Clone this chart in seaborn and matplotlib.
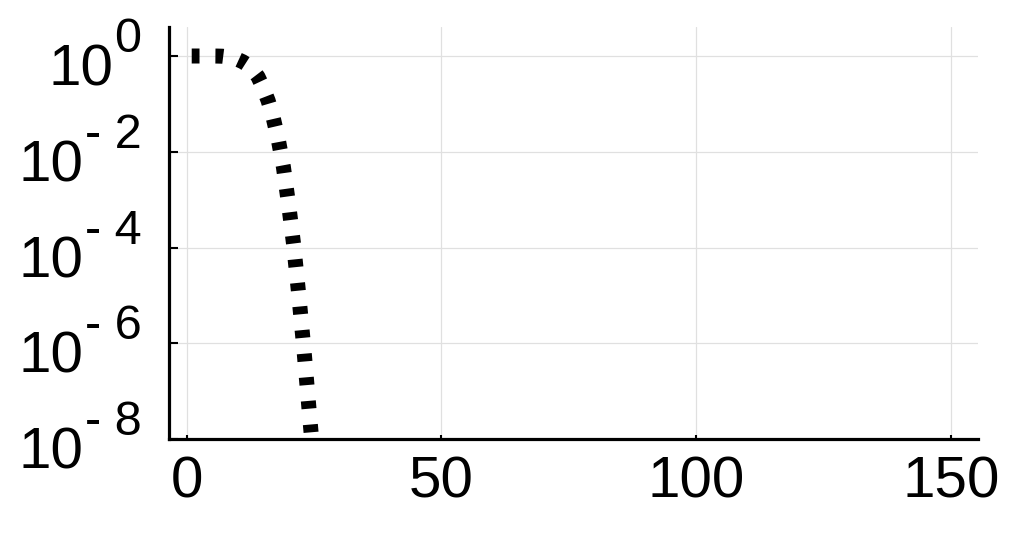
import numpy as np
import pandas as pd
import matplotlib
matplotlib.use("Agg")
import matplotlib.pyplot as plt
from matplotlib.ticker import NullLocator
import seaborn as sns

# ---- data ----
x_vals = list(range(1, 27))
y_vals = [1.0, 1.0, 1.0, 1.0, 0.999, 0.997, 0.99, 0.96, 0.91, 0.85,
          0.76, 0.65, 0.51, 0.37, 0.22, 0.117, 0.051, 0.0178, 4.8e-3, 8.3e-4,
          1.17e-4, 1.07e-5, 8.1e-7, 4.6e-8, 2.8e-9, 1.0e-10]
x_ticks = [0, 50, 100, 150]
x_tick_labels = ["0", "50", "100", "150"]
y_ticks = [1e0, 1e-2, 1e-4, 1e-6, 1e-8]
y_tick_bases = ["10", "10", "10", "10", "10"]
y_tick_exponents = ["0", "- 2", "- 4", "- 6", "- 8"]

sns.set_style("white")
plt.rcParams['font.family'] = ['Liberation Sans', 'DejaVu Sans']
plt.rcParams['text.color'] = 'black'

W, H = 1023, 543
fig = plt.figure(figsize=(W / 100, H / 100), dpi=100)
ax_l, ax_r, ax_t, ax_b = 169.3, 978.3, 26.7, 439.3
ax = fig.add_axes([ax_l / W, 1 - ax_b / H, (ax_r - ax_l) / W, (ax_b - ax_t) / H])

df = pd.DataFrame({"x": x_vals, "y": y_vals})
sns.lineplot(data=df, x="x", y="y", ax=ax, color="black", linewidth=10.8,
             linestyle=(0, (0.52, 1.06)), sort=False, zorder=3)

ax.set_yscale("log")
ax.set_xlim(-3.4, 155.4)
ax.set_ylim(1e-8, 4.09)
ax.set_xlabel("")
ax.set_ylabel("")

for s in ["top", "right"]:
    ax.spines[s].set_visible(False)
for s in ["left", "bottom"]:
    ax.spines[s].set_visible(True)
    ax.spines[s].set_color("black")
    ax.spines[s].set_linewidth(2.3)

ax.set_axisbelow(True)
ax.grid(True, which="major", color="#e0e0e0", linewidth=0.9)

ax.set_xticks(x_ticks)
ax.set_xticklabels(x_tick_labels)
ax.set_yticks(y_ticks)
ax.set_yticklabels(["" for _ in y_ticks])
ax.yaxis.set_minor_locator(NullLocator())
ax.xaxis.set_minor_locator(NullLocator())

ax.tick_params(axis="x", direction="in", length=3, width=1.5, pad=12,
               labelsize=42, colors="black", bottom=True)
ax.tick_params(axis="y", direction="in", length=6.5, width=1.5,
               colors="black", left=True)

# y tick labels: "10" with raised exponent, as real text
fig.canvas.draw()
renderer = fig.canvas.get_renderer()
ax_left_disp = ax.get_window_extent(renderer).x0
for yv, base, ex in zip(y_ticks, y_tick_bases, y_tick_exponents):
    te = ax.annotate(ex, xy=(0, yv), xycoords=("axes fraction", "data"),
                     xytext=(141.5 - ax_l, 4), textcoords="offset pixels",
                     ha="right", va="baseline", fontsize=35, color="black",
                     annotation_clip=False)
    bb = te.get_window_extent(renderer)
    bx = bb.x0 - 1.3 - ax_left_disp
    ax.annotate(base, xy=(0, yv), xycoords=("axes fraction", "data"),
                xytext=(bx, -29.5), textcoords="offset pixels",
                ha="right", va="baseline", fontsize=42, color="black",
                annotation_clip=False)

fig.savefig("out.png", dpi=100)
